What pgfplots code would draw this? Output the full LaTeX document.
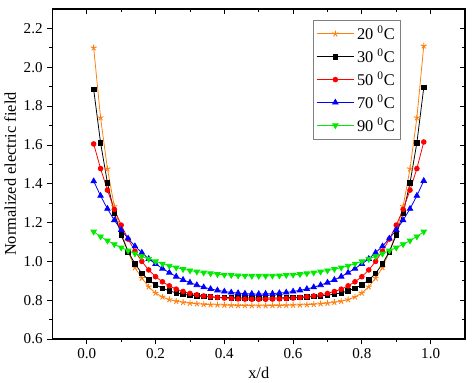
\documentclass[border=0pt]{standalone}
\usepackage{fontspec}
\setmainfont{Liberation Serif}
\usepackage{pgfplots}
\usepackage{pgfplotstable}
\pgfplotsset{compat=1.18}
\definecolor{corange}{RGB}{255,127,14}
\definecolor{cgreen}{RGB}{0,235,0}
\pgfplotstableread{
x a b c d e
0.02 2.100 1.885 1.605 1.413 1.153
0.04 1.740 1.611 1.478 1.338 1.128
0.06 1.477 1.404 1.367 1.271 1.107
0.08 1.283 1.249 1.268 1.212 1.088
0.10 1.150 1.136 1.187 1.162 1.071
0.12 1.050 1.050 1.115 1.118 1.055
0.14 0.968 0.988 1.053 1.078 1.040
0.16 0.914 0.938 1.000 1.045 1.026
0.18 0.869 0.904 0.956 1.013 1.012
0.20 0.837 0.879 0.921 0.987 1.000
0.22 0.817 0.862 0.895 0.963 0.988
0.24 0.803 0.848 0.874 0.942 0.977
0.26 0.795 0.838 0.857 0.922 0.968
0.28 0.789 0.831 0.845 0.905 0.960
0.30 0.785 0.826 0.835 0.891 0.953
0.32 0.782 0.822 0.828 0.878 0.947
0.34 0.779 0.819 0.822 0.867 0.942
0.36 0.777 0.817 0.818 0.858 0.938
0.38 0.776 0.815 0.814 0.851 0.934
0.40 0.775 0.814 0.811 0.845 0.931
0.42 0.774 0.813 0.809 0.840 0.929
0.44 0.773 0.812 0.807 0.837 0.927
0.46 0.773 0.812 0.806 0.834 0.926
0.48 0.772 0.811 0.805 0.833 0.925
0.50 0.772 0.811 0.805 0.832 0.925
0.52 0.772 0.811 0.805 0.833 0.925
0.54 0.773 0.812 0.806 0.834 0.926
0.56 0.773 0.812 0.807 0.837 0.927
0.58 0.774 0.813 0.809 0.840 0.929
0.60 0.775 0.814 0.811 0.845 0.931
0.62 0.776 0.815 0.814 0.851 0.934
0.64 0.777 0.817 0.818 0.858 0.938
0.66 0.779 0.819 0.822 0.867 0.942
0.68 0.782 0.822 0.828 0.878 0.947
0.70 0.785 0.826 0.835 0.891 0.953
0.72 0.789 0.831 0.845 0.905 0.960
0.74 0.795 0.838 0.857 0.922 0.968
0.76 0.803 0.848 0.874 0.942 0.977
0.78 0.817 0.862 0.895 0.963 0.988
0.80 0.837 0.879 0.921 0.987 1.000
0.82 0.869 0.904 0.956 1.013 1.012
0.84 0.914 0.938 1.000 1.045 1.026
0.86 0.968 0.988 1.053 1.078 1.040
0.88 1.050 1.050 1.115 1.118 1.055
0.90 1.150 1.136 1.187 1.162 1.071
0.92 1.283 1.249 1.268 1.212 1.088
0.94 1.477 1.404 1.367 1.271 1.107
0.96 1.740 1.611 1.478 1.338 1.128
0.98 2.110 1.895 1.615 1.415 1.153
}\datatable
\begin{document}
\begin{tikzpicture}
\begin{axis}[
  scale only axis, width=315pt, height=252pt,
  xmin=-0.1, xmax=1.1, ymin=0.6, ymax=2.3,
  xtick={0,0.2,...,1.0}, ytick={0.6,0.8,...,2.2},
  minor x tick num=1, minor y tick num=1,
  xtick pos=left, ytick pos=left, tick align=outside,
  major tick length=4pt, minor tick length=2.5pt,
  every tick/.style={black, line width=0.6pt},
  axis line style={line width=0.9pt},
  tick label style={font=\fontsize{11.5}{13}\selectfont},
  /pgf/number format/assume math mode=true,
  xticklabel style={/pgf/number format/.cd, fixed, fixed zerofill, precision=1},
  yticklabel style={/pgf/number format/.cd, fixed, fixed zerofill, precision=1},
  xlabel={x/d}, ylabel={Normalized electric field},
  label style={font=\fontsize{12.5}{14}\selectfont},
  xlabel style={yshift=1pt},
  ylabel style={yshift=-1pt},
  every axis plot/.append style={line width=0.6pt},
  legend cell align=left,
  legend style={at={(rel axis cs:0.845,0.967)}, anchor=north east,
    draw=gray, line width=0.6pt, font=\fontsize{12.5}{14}\selectfont,
    row sep=1.8pt, inner sep=2.5pt},
  legend image code/.code={
    \draw[mark repeat=2,mark phase=2] plot coordinates {(0cm,0cm) (0.5cm,0cm) (1.0cm,0cm)};},
]
\addplot[corange, mark=star, mark size=2.4pt, mark options={line width=0.7pt}] table[x=x,y=a] {\datatable};
\addlegendentry{20 \textsuperscript{0}C}
\addplot[black, mark=square*, mark size=1.7pt] table[x=x,y=b] {\datatable};
\addlegendentry{30 \textsuperscript{0}C}
\addplot[red, mark=*, mark size=1.8pt] table[x=x,y=c] {\datatable};
\addlegendentry{50 \textsuperscript{0}C}
\addplot[blue, mark=triangle*, mark size=2.4pt] table[x=x,y=d] {\datatable};
\addlegendentry{70 \textsuperscript{0}C}
\addplot[cgreen, mark=triangle*, mark size=2.4pt, mark options={rotate=180}] table[x=x,y=e] {\datatable};
\addlegendentry{90 \textsuperscript{0}C}
\end{axis}
\begin{axis}[
  scale only axis, width=315pt, height=252pt,
  xmin=-0.1, xmax=1.1, ymin=0.6, ymax=2.3,
  xtick={0,0.2,...,1.0}, ytick={0.6,0.8,...,2.2},
  minor x tick num=1, minor y tick num=1,
  xtick pos=right, ytick pos=right, tick align=inside,
  major tick length=4pt, minor tick length=2.5pt,
  every tick/.style={black, line width=0.6pt},
  axis line style={line width=0.9pt},
  xticklabels={}, yticklabels={},
]
\end{axis}
\path (current axis.north east) ++(3.5pt,1pt);
\end{tikzpicture}
\end{document}
